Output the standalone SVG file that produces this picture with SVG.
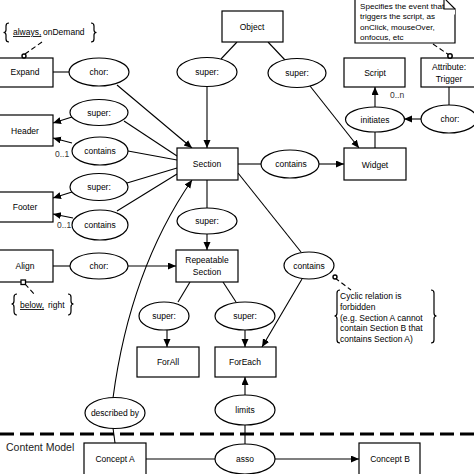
<svg xmlns="http://www.w3.org/2000/svg" width="474" height="474" viewBox="0 0 474 474">
<defs>
<marker id="arr" markerUnits="userSpaceOnUse" markerWidth="9" markerHeight="8" refX="8" refY="3.5" orient="auto"><path d="M0,0 L8,3.5 L0,7 z" fill="#000"/></marker>
<style>
.n rect,.n ellipse,.note{fill:#fff;stroke:#000;stroke-width:1.2}
.c line,.c path{stroke:#000;stroke-width:1.1;fill:none}
.a{marker-end:url(#arr)}
.d{stroke:#000;stroke-width:2;stroke-dasharray:5 3;fill:none}
.br{fill:none;stroke:#000;stroke-width:1.2}
text{font-family:"Liberation Sans",Arial,sans-serif;font-size:8.5px;fill:#000}
.m{text-anchor:middle}
</style>
</defs>
<rect width="474" height="474" fill="#fff"/>

<g class="c" id="connectors">
<line x1="237" y1="42" x2="221" y2="59"/>
<line x1="268" y1="42" x2="285" y2="60"/>
<line class="a" x1="207" y1="87" x2="207" y2="148"/>
<line class="a" x1="310" y1="86" x2="359" y2="148"/>
<line x1="53" y1="72" x2="69" y2="72"/>
<line class="a" x1="117" y1="85" x2="192" y2="148"/>
<line class="a" x1="72" y1="117" x2="53" y2="123"/>
<line x1="124" y1="121" x2="177" y2="156"/>
<line class="a" x1="72" y1="143" x2="53" y2="138"/>
<line x1="128" y1="151" x2="177" y2="160"/>
<line class="a" x1="72" y1="192" x2="53" y2="198"/>
<line x1="127" y1="183" x2="177" y2="168"/>
<line class="a" x1="73" y1="218" x2="53" y2="214"/>
<line x1="117" y1="211" x2="177" y2="174"/>
<line x1="53" y1="266" x2="70" y2="266"/>
<line class="a" x1="128" y1="266" x2="176" y2="266"/>
<line x1="207" y1="180" x2="207" y2="208"/>
<line class="a" x1="207" y1="234" x2="207" y2="250"/>
<line x1="238" y1="164" x2="261" y2="164"/>
<line class="a" x1="319" y1="164" x2="344" y2="164"/>
<line x1="238" y1="173" x2="301" y2="252"/>
<line class="a" x1="302" y1="279" x2="262" y2="347"/>
<line x1="190" y1="282" x2="178" y2="302"/>
<line class="a" x1="167" y1="330" x2="167" y2="347"/>
<line x1="223" y1="282" x2="236" y2="302"/>
<line class="a" x1="245" y1="330" x2="245" y2="347"/>
<line class="a" x1="245" y1="395" x2="245" y2="377"/>
<line x1="245" y1="444" x2="245" y2="425"/>
<line x1="146" y1="459" x2="215" y2="459"/>
<line class="a" x1="275" y1="459" x2="359" y2="459"/>
<line x1="115" y1="443" x2="113" y2="428"/>
<path class="a" d="M113,398 Q130,270 192,180"/>
<line class="a" x1="375" y1="107" x2="375" y2="87"/>
<line x1="375" y1="132" x2="375" y2="148"/>
<line x1="449" y1="87" x2="449" y2="105"/>
<line class="a" x1="421" y1="119" x2="404" y2="119"/>
<line class="d" x1="42" y1="42" x2="25" y2="54"/>
<line class="d" x1="25" y1="284" x2="35" y2="295"/>
<line class="d" x1="335" y1="278" x2="351" y2="290"/>
<line class="d" x1="433" y1="44" x2="449" y2="55"/>
</g>

<line id="boundary" x1="0" y1="434" x2="474" y2="434" stroke="#000" stroke-width="3" stroke-dasharray="14 6"/>
<text x="6" y="451" style="font-size:10.5px;fill:#222">Content Model</text>

<g class="n">
<g id="object"><rect x="222" y="11" width="61" height="31"/><text class="m" x="252" y="30">Object</text></g>
<g id="superObjL"><ellipse cx="207" cy="72" rx="30" ry="14.5"/><text class="m" x="207" y="75">super:</text></g>
<g id="superObjR"><ellipse cx="297" cy="73" rx="29" ry="14.5"/><text class="m" x="297" y="76">super:</text></g>
<g id="section"><rect x="177" y="148" width="61" height="32"/><text class="m" x="207" y="167">Section</text></g>
<g id="widget"><rect x="344" y="148" width="62" height="32"/><text class="m" x="375" y="168">Widget</text></g>
<g id="script"><rect x="344" y="58" width="61" height="29"/><text class="m" x="375" y="76">Script</text></g>
<g id="trigger"><rect x="421" y="58" width="56" height="29"/><text class="m" x="449" y="70">Attribute:</text><text class="m" x="449" y="82">Trigger</text></g>
<g id="initiates"><ellipse cx="375" cy="119.5" rx="29.5" ry="12.5"/><text class="m" x="375" y="122.5">initiates</text></g>
<g id="chorTrig"><ellipse cx="449" cy="119" rx="28" ry="14"/><text class="m" x="450" y="122">chor:</text></g>

<g id="expand"><rect x="-1" y="58" width="54" height="29"/><text class="m" x="25" y="75">Expand</text></g>
<g id="chorExpand"><ellipse cx="99" cy="72" rx="30" ry="14"/><text class="m" x="99" y="75">chor:</text></g>
<g id="header"><rect x="-1" y="115" width="54" height="31"/><text class="m" x="25" y="134">Header</text></g>
<g id="superHeader"><ellipse cx="99" cy="112.5" rx="29" ry="13"/><text class="m" x="99" y="115.5">super:</text></g>
<g id="containsHeader"><ellipse cx="100" cy="151" rx="28" ry="14"/><text class="m" x="100" y="154">contains</text></g>
<g id="footer"><rect x="-1" y="192" width="54" height="30"/><text class="m" x="25" y="210">Footer</text></g>
<g id="superFooter"><ellipse cx="99" cy="187" rx="29" ry="13.5"/><text class="m" x="99" y="190">super:</text></g>
<text x="57" y="228" style="fill:#333">0..1</text>
<g id="containsFooter"><ellipse cx="100" cy="225" rx="28" ry="15"/><text class="m" x="100" y="228">contains</text></g>
<g id="align"><rect x="-1" y="250" width="54" height="32"/><text class="m" x="25" y="269">Align</text></g>
<g id="chorAlign"><ellipse cx="99" cy="266" rx="29" ry="13"/><text class="m" x="99" y="269">chor:</text></g>

<g id="superRep"><ellipse cx="207" cy="221" rx="30" ry="13"/><text class="m" x="207" y="224">super:</text></g>
<g id="containsSW"><ellipse cx="290" cy="164" rx="29" ry="14"/><text class="m" x="291" y="167">contains</text></g>
<g id="containsFE"><ellipse cx="309" cy="265.5" rx="25" ry="13.5"/><text class="m" x="309" y="268.5">contains</text></g>
<g id="repeatable"><rect x="176" y="250" width="62" height="32"/><text class="m" x="207" y="263">Repeatable</text><text class="m" x="207" y="275">Section</text></g>
<g id="superForAll"><ellipse cx="164" cy="316" rx="25" ry="14"/><text class="m" x="164" y="319">super:</text></g>
<g id="superForEach"><ellipse cx="245" cy="316" rx="30" ry="14"/><text class="m" x="245" y="319">super:</text></g>
<g id="forAll"><rect x="137" y="347" width="62" height="30"/><text class="m" x="168" y="365">ForAll</text></g>
<g id="forEach"><rect x="215" y="347" width="61" height="30"/><text class="m" x="245" y="365">ForEach</text></g>
<g id="limits"><ellipse cx="245" cy="410" rx="30" ry="15"/><text class="m" x="245" y="413">limits</text></g>
<g id="describedBy"><ellipse cx="115" cy="413" rx="30" ry="15.5"/><text class="m" x="115" y="416">described by</text></g>
<g id="asso"><ellipse cx="245" cy="459" rx="30" ry="15"/><text class="m" x="245" y="462">asso</text></g>
<g id="conceptA"><rect x="84" y="443" width="62" height="40"/><text class="m" x="115" y="462">Concept A</text></g>
<g id="conceptB"><rect x="359" y="443" width="61" height="40"/><text class="m" x="390" y="462">Concept B</text></g>
<rect x="21" y="280" width="4.5" height="4.5" style="stroke-width:1.3"/>
</g>

<text x="390" y="98" style="fill:#333">0..n</text>
<text x="55" y="157" style="fill:#333">0..1</text>

<g id="noteEvent">
<path class="note" d="M355,-2 H444 L455,9 V43 H355 Z"/>
<text x="360" y="8.5" style="font-size:8.1px">Specifies the event that</text>
<text x="360" y="19" style="font-size:8.1px">triggers the script, as</text>
<text x="360" y="29.5" style="font-size:8.1px">onClick, mouseOver,</text>
<text x="360" y="40" style="font-size:8.1px">onfocus, etc</text>
<path d="M438,-2 L455,15 V-2 Z" fill="#fff" stroke="none"/>
<path d="M444,-2 V9 H455" fill="#fff" stroke="#000" stroke-width="1.1"/>
<path d="M444,-2 L455,9" fill="none" stroke="#000" stroke-width="1.1"/>
</g>
<circle cx="450" cy="56" r="2.2" fill="#fff" stroke="#000" stroke-width="1.5"/>

<g id="braceExpand">
<path class="br" d="M9,23 Q6,23 6,26 V30 Q6,32.5 3.5,32.5 Q6,32.5 6,35 V39 Q6,42 9,42"/>
<text x="13" y="35" style="text-decoration:underline">always,</text>
<text x="43" y="35">onDemand</text>
<path class="br" d="M91,23 Q94,23 94,26 V30 Q94,32.5 96.5,32.5 Q94,32.5 94,35 V39 Q94,42 91,42"/>
</g>
<circle cx="24" cy="56" r="2" fill="#fff" stroke="#000" stroke-width="1.4"/>

<g id="braceAlign">
<path class="br" d="M17,294 Q14,294 14,297 V301 Q14,304 11.5,304 Q14,304 14,307 V311 Q14,315 17,315"/>
<text x="20" y="308" style="text-decoration:underline">below,</text>
<text x="48" y="308">right</text>
<path class="br" d="M68,294 Q71,294 71,297 V301 Q71,304 73.5,304 Q71,304 71,307 V311 Q71,315 68,315"/>
</g>

<circle cx="335" cy="277" r="2" fill="#fff" stroke="#000" stroke-width="1.4"/>
<g id="noteCyclic">
<path class="br" d="M340,290 Q337,290 337,293 V313 Q337,316 334.5,316 Q337,316 337,319 V340 Q337,343 340,343"/>
<text x="340" y="299">Cyclic relation is</text>
<text x="340" y="310">forbidden</text>
<text x="340" y="320.5">(e.g. Section A cannot</text>
<text x="340" y="331">contain Section B that</text>
<text x="340" y="341.5">contains Section A)</text>
<path class="br" d="M431,290 Q434,290 434,293 V313 Q434,316 436.5,316 Q434,316 434,319 V340 Q434,343 431,343"/>
</g>
</svg>
